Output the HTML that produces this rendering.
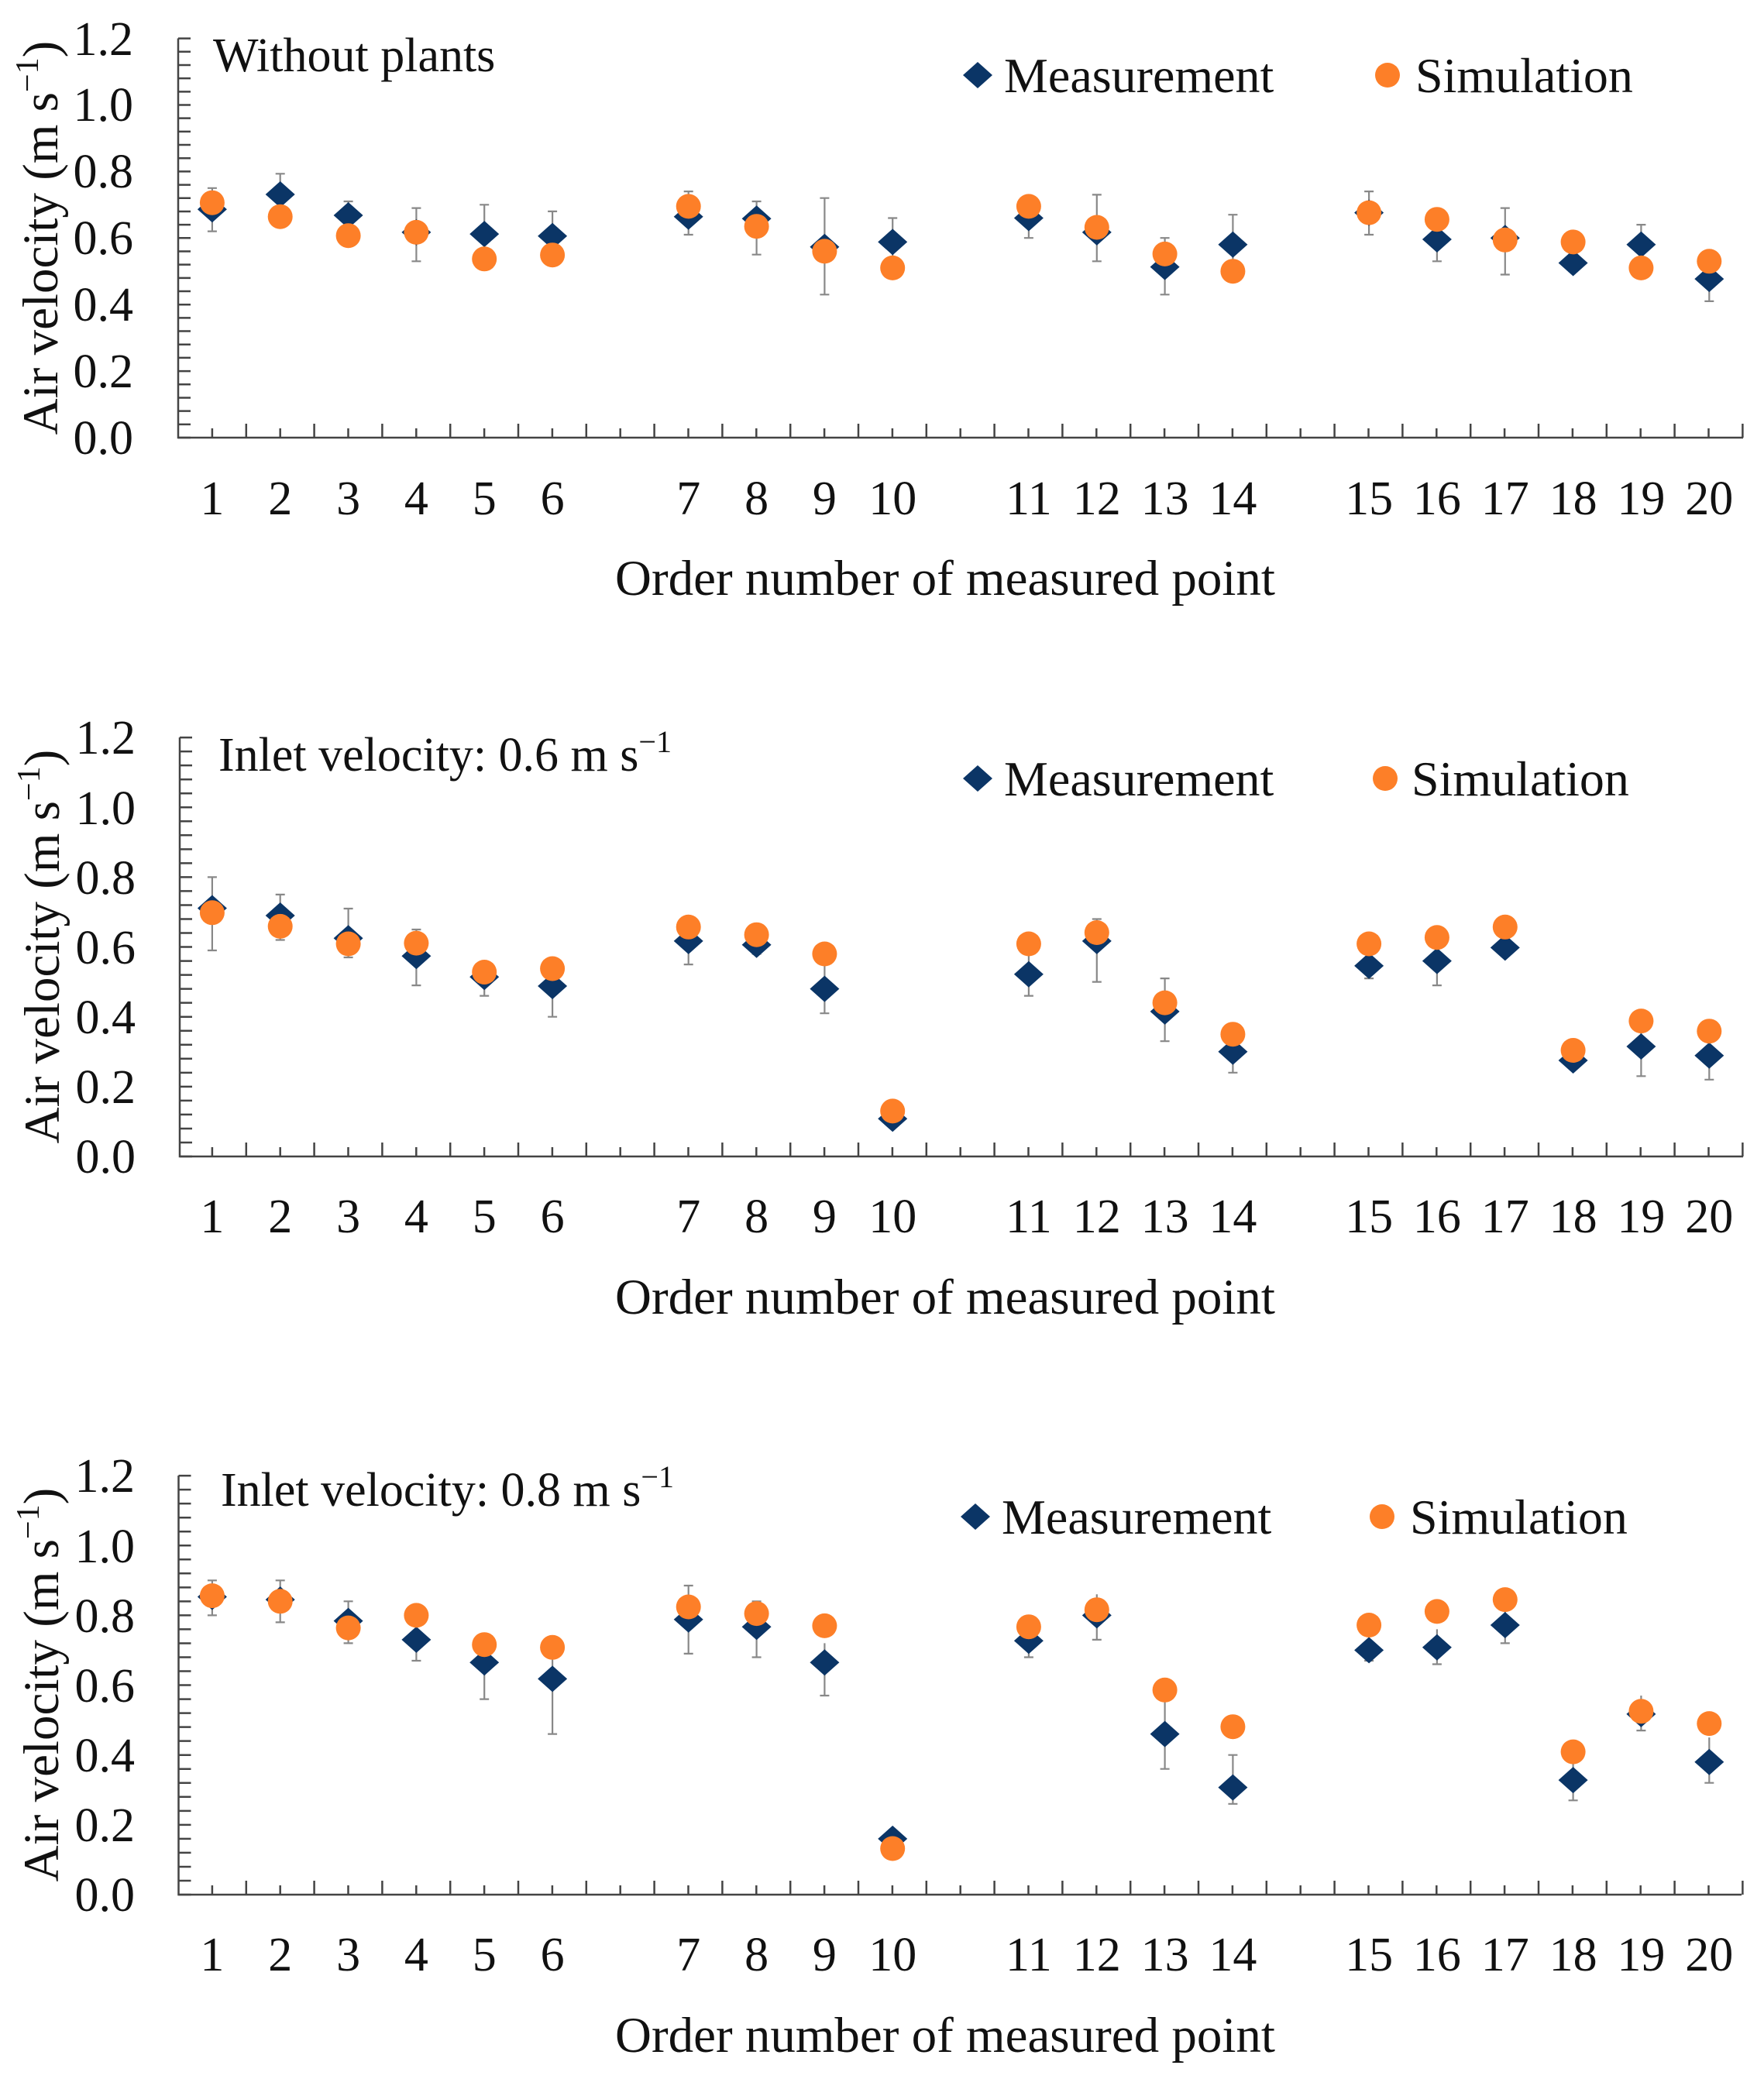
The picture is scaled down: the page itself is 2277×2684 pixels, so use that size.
<!DOCTYPE html>
<html><head><meta charset="utf-8"><style>html,body{margin:0;padding:0;background:#fff}svg{display:block}text,tspan{font-family:"Liberation Serif","Times New Roman",serif}</style></head>
<body>
<svg xmlns="http://www.w3.org/2000/svg" width="2277" height="2684" viewBox="0 0 2277 2684" style="font-family:'Liberation Serif',serif" fill="#111">
<defs>
<path id="d" d="M0,-17L19,0L0,17L-19,0Z" fill="#0b3566"/>
<circle id="c" r="16" fill="#fd7f28"/>
</defs>

<!-- ================= PANEL 1 ================= -->
<g stroke="#444" stroke-width="2.5" fill="none">
<path d="M230,49.5 V565 H2250"/>
<path d="M230,565 h16 m-16,-17.18 h16 m-16,-17.18 h16 m-16,-17.18 h16 m-16,-17.18 h16 m-16,-17.18 h16 m-16,-17.18 h16 m-16,-17.18 h16 m-16,-17.18 h16 m-16,-17.18 h16 m-16,-17.18 h16 m-16,-17.18 h16 m-16,-17.18 h16 m-16,-17.18 h16 m-16,-17.18 h16 m-16,-17.18 h16 m-16,-17.18 h16 m-16,-17.18 h16 m-16,-17.18 h16 m-16,-17.18 h16 m-16,-17.18 h16 m-16,-17.18 h16 m-16,-17.18 h16 m-16,-17.18 h16 m-16,-17.18 h16 m-16,-17.18 h16 m-16,-17.18 h16 m-16,-17.18 h16 m-16,-17.18 h16 m-16,-17.18 h16 m-16,-17.18 h16"/>
<path d="M273.9,565 v-12 m43.9,12 v-18 m43.9,18 v-12 m43.9,12 v-18 m43.9,18 v-12 m43.9,12 v-18 m43.9,18 v-12 m43.9,12 v-18 m43.9,18 v-12 m43.9,12 v-18 m43.9,18 v-12 m43.9,12 v-18 m43.9,18 v-12 m43.9,12 v-18 m43.9,18 v-12 m43.9,12 v-18 m43.9,18 v-12 m43.9,12 v-18 m43.9,18 v-12 m43.9,12 v-18 m43.9,18 v-12 m43.9,12 v-18 m43.9,18 v-12 m43.9,12 v-18 m43.9,18 v-12 m43.9,12 v-18 m43.9,18 v-12 m43.9,12 v-18 m43.9,18 v-12 m43.9,12 v-18 m43.9,18 v-12 m43.9,12 v-18 m43.9,18 v-12 m43.9,12 v-18 m43.9,18 v-12 m43.9,12 v-18 m43.9,18 v-12 m43.9,12 v-18 m43.9,18 v-12 m43.9,12 v-18 m43.9,18 v-12 m43.9,12 v-18 m43.9,18 v-12 m43.9,12 v-18 m43.9,18 v-12 m43.9,12 v-18"/>
</g>
<g font-size="62" text-anchor="end">
<text x="172" y="586">0.0</text><text x="172" y="500">0.2</text><text x="172" y="414">0.4</text><text x="172" y="328">0.6</text><text x="172" y="242">0.8</text><text x="172" y="156">1.0</text><text x="172" y="71">1.2</text>
</g>
<g font-size="62" text-anchor="middle">
<text x="273.9" y="664">1</text><text x="361.7" y="664">2</text><text x="449.6" y="664">3</text><text x="537.4" y="664">4</text><text x="625.2" y="664">5</text><text x="713.1" y="664">6</text><text x="888.7" y="664">7</text><text x="976.6" y="664">8</text><text x="1064.4" y="664">9</text><text x="1152.2" y="664">10</text><text x="1327.9" y="664">11</text><text x="1415.8" y="664">12</text><text x="1503.6" y="664">13</text><text x="1591.4" y="664">14</text><text x="1767.1" y="664">15</text><text x="1854.9" y="664">16</text><text x="1942.8" y="664">17</text><text x="2030.6" y="664">18</text><text x="2118.4" y="664">19</text><text x="2206.3" y="664">20</text>
<text x="1220" y="768" font-size="65">Order number of measured point</text>
<text transform="translate(74,307) rotate(-90)" font-size="65">Air velocity (m s<tspan font-size="42" dy="-25">−1</tspan><tspan dy="25">)</tspan></text>
</g>
<text x="275" y="92" font-size="62">Without plants</text>
<use href="#d" x="1262" y="97"/><text x="1296" y="119" font-size="64">Measurement</text>
<circle cx="1791" cy="97" r="16" fill="#fd7f28"/><text x="1827" y="119" font-size="64">Simulation</text>

<g stroke="#888" stroke-width="2.2" fill="none">
<path d="M273.9,242.8V298.6M267.9,242.8h12M267.9,298.6h12 M361.7,224.3V277.2M355.7,224.3h12M355.7,277.2h12 M449.6,260V294.4M443.6,260h12M443.6,294.4h12 M537.4,268.6V337.3M531.4,268.6h12M531.4,337.3h12 M625.2,264.3V341.6M619.2,264.3h12M619.2,341.6h12 M713.1,272.9V337.3M707.1,272.9h12M707.1,337.3h12 M888.7,247.1V303M882.7,247.1h12M882.7,303h12 M976.6,260V328.7M970.6,260h12M970.6,328.7h12 M1064.4,255.7V380.3M1058.4,255.7h12M1058.4,380.3h12 M1152.2,281.5V341.6M1146.2,281.5h12M1146.2,341.6h12 M1327.9,255.7V307.2M1321.9,255.7h12M1321.9,307.2h12 M1415.8,251.4V337.3M1409.8,251.4h12M1409.8,337.3h12 M1503.6,307.2V380.3M1497.6,307.2h12M1497.6,380.3h12 M1591.4,277.2V354.5M1585.4,277.2h12M1585.4,354.5h12 M1767.1,247.1V303M1761.1,247.1h12M1761.1,303h12 M1854.9,281.5V337.3M1848.9,281.5h12M1848.9,337.3h12 M1942.8,268.6V354.5M1936.8,268.6h12M1936.8,354.5h12 M2030.6,328.7V350.2M2024.6,328.7h12M2024.6,350.2h12 M2118.4,290.1V341.6M2112.4,290.1h12M2112.4,341.6h12 M2206.3,333V388.9M2200.3,333h12M2200.3,388.9h12"/>
</g>
<g>
<use href="#d" x="273.9" y="270.3"/><use href="#d" x="361.7" y="251"/><use href="#d" x="449.6" y="278"/><use href="#d" x="537.4" y="299.9"/><use href="#d" x="625.2" y="302.1"/><use href="#d" x="713.1" y="304.7"/><use href="#d" x="888.7" y="279.7"/><use href="#d" x="976.6" y="282.3"/><use href="#d" x="1064.4" y="318.8"/><use href="#d" x="1152.2" y="312.4"/><use href="#d" x="1327.9" y="281.5"/><use href="#d" x="1415.8" y="299.9"/><use href="#d" x="1503.6" y="344.6"/><use href="#d" x="1591.4" y="315.8"/><use href="#d" x="1767.1" y="274.6"/><use href="#d" x="1854.9" y="309"/><use href="#d" x="1942.8" y="307.2"/><use href="#d" x="2030.6" y="339.5"/><use href="#d" x="2118.4" y="315.8"/><use href="#d" x="2206.3" y="360.1"/>
<use href="#c" x="273.9" y="261.7"/><use href="#c" x="361.7" y="279.7"/><use href="#c" x="449.6" y="304.2"/><use href="#c" x="537.4" y="299.9"/><use href="#c" x="625.2" y="334.3"/><use href="#c" x="713.1" y="329.2"/><use href="#c" x="888.7" y="266.4"/><use href="#c" x="976.6" y="292.2"/><use href="#c" x="1064.4" y="324.4"/><use href="#c" x="1152.2" y="345.9"/><use href="#c" x="1327.9" y="266.4"/><use href="#c" x="1415.8" y="293.5"/><use href="#c" x="1503.6" y="327.9"/><use href="#c" x="1591.4" y="350.2"/><use href="#c" x="1767.1" y="274.6"/><use href="#c" x="1854.9" y="283.2"/><use href="#c" x="1942.8" y="309.8"/><use href="#c" x="2030.6" y="312.4"/><use href="#c" x="2118.4" y="345.9"/><use href="#c" x="2206.3" y="337.3"/>
</g>

<!-- ================= PANEL 2 ================= -->
<g stroke="#444" stroke-width="2.5" fill="none">
<path d="M232,952 V1493 H2250"/>
<path d="M232,1493 h16 m-16,-18.03 h16 m-16,-18.03 h16 m-16,-18.03 h16 m-16,-18.03 h16 m-16,-18.03 h16 m-16,-18.03 h16 m-16,-18.03 h16 m-16,-18.03 h16 m-16,-18.03 h16 m-16,-18.03 h16 m-16,-18.03 h16 m-16,-18.03 h16 m-16,-18.03 h16 m-16,-18.03 h16 m-16,-18.03 h16 m-16,-18.03 h16 m-16,-18.03 h16 m-16,-18.03 h16 m-16,-18.03 h16 m-16,-18.03 h16 m-16,-18.03 h16 m-16,-18.03 h16 m-16,-18.03 h16 m-16,-18.03 h16 m-16,-18.03 h16 m-16,-18.03 h16 m-16,-18.03 h16 m-16,-18.03 h16 m-16,-18.03 h16 m-16,-18.03 h16"/>
<path d="M273.9,1493 v-12 m43.9,12 v-18 m43.9,18 v-12 m43.9,12 v-18 m43.9,18 v-12 m43.9,12 v-18 m43.9,18 v-12 m43.9,12 v-18 m43.9,18 v-12 m43.9,12 v-18 m43.9,18 v-12 m43.9,12 v-18 m43.9,18 v-12 m43.9,12 v-18 m43.9,18 v-12 m43.9,12 v-18 m43.9,18 v-12 m43.9,12 v-18 m43.9,18 v-12 m43.9,12 v-18 m43.9,18 v-12 m43.9,12 v-18 m43.9,18 v-12 m43.9,12 v-18 m43.9,18 v-12 m43.9,12 v-18 m43.9,18 v-12 m43.9,12 v-18 m43.9,18 v-12 m43.9,12 v-18 m43.9,18 v-12 m43.9,12 v-18 m43.9,18 v-12 m43.9,12 v-18 m43.9,18 v-12 m43.9,12 v-18 m43.9,18 v-12 m43.9,12 v-18 m43.9,18 v-12 m43.9,12 v-18 m43.9,18 v-12 m43.9,12 v-18 m43.9,18 v-12 m43.9,12 v-18 m43.9,18 v-12 m43.9,12 v-18"/>
</g>
<g font-size="62" text-anchor="end">
<text x="175" y="1514">0.0</text><text x="175" y="1424">0.2</text><text x="175" y="1334">0.4</text><text x="175" y="1244">0.6</text><text x="175" y="1154">0.8</text><text x="175" y="1064">1.0</text><text x="175" y="973">1.2</text>
</g>
<g font-size="62" text-anchor="middle">
<text x="273.9" y="1591">1</text><text x="361.7" y="1591">2</text><text x="449.6" y="1591">3</text><text x="537.4" y="1591">4</text><text x="625.2" y="1591">5</text><text x="713.1" y="1591">6</text><text x="888.7" y="1591">7</text><text x="976.6" y="1591">8</text><text x="1064.4" y="1591">9</text><text x="1152.2" y="1591">10</text><text x="1327.9" y="1591">11</text><text x="1415.8" y="1591">12</text><text x="1503.6" y="1591">13</text><text x="1591.4" y="1591">14</text><text x="1767.1" y="1591">15</text><text x="1854.9" y="1591">16</text><text x="1942.8" y="1591">17</text><text x="2030.6" y="1591">18</text><text x="2118.4" y="1591">19</text><text x="2206.3" y="1591">20</text>
<text x="1220" y="1696" font-size="65">Order number of measured point</text>
<text transform="translate(76,1222) rotate(-90)" font-size="65">Air velocity (m s<tspan font-size="42" dy="-25">−1</tspan><tspan dy="25">)</tspan></text>
</g>
<text x="282" y="995" font-size="62">Inlet velocity: 0.6 m s<tspan font-size="40" dy="-24">−1</tspan></text>
<use href="#d" x="1262" y="1005"/><text x="1296" y="1027" font-size="64">Measurement</text>
<circle cx="1788" cy="1005" r="16" fill="#fd7f28"/><text x="1822" y="1027" font-size="64">Simulation</text>

<g stroke="#888" stroke-width="2.2" fill="none">
<path d="M273.9,1132.4V1227M267.9,1132.4h12M267.9,1227h12 M361.7,1154.9V1213.5M355.7,1154.9h12M355.7,1213.5h12 M449.6,1173V1236M443.6,1173h12M443.6,1236h12 M537.4,1200V1272.1M531.4,1200h12M531.4,1272.1h12 M625.2,1245.1V1285.6M619.2,1245.1h12M619.2,1285.6h12 M713.1,1240.6V1312.7M707.1,1240.6h12M707.1,1312.7h12 M888.7,1186.5V1245.1M882.7,1186.5h12M882.7,1245.1h12 M976.6,1209V1231.5M970.6,1209h12M970.6,1231.5h12 M1064.4,1245.1V1308.2M1058.4,1245.1h12M1058.4,1308.2h12 M1327.9,1231.5V1285.6M1321.9,1231.5h12M1321.9,1285.6h12 M1415.8,1186.5V1267.6M1409.8,1186.5h12M1409.8,1267.6h12 M1503.6,1263.1V1344.2M1497.6,1263.1h12M1497.6,1344.2h12 M1591.4,1330.7V1384.8M1585.4,1330.7h12M1585.4,1384.8h12 M1767.1,1231.5V1263.1M1761.1,1231.5h12M1761.1,1263.1h12 M1854.9,1213.5V1272.1M1848.9,1213.5h12M1848.9,1272.1h12 M1942.8,1213.5V1231.5M1936.8,1231.5h12 M2030.6,1362.3V1375.8M2024.6,1375.8h12 M2118.4,1312.7V1389.3M2112.4,1389.3h12 M2206.3,1335.2V1393.8M2200.3,1393.8h12"/>
</g>
<g>
<use href="#d" x="273.9" y="1172.5"/><use href="#d" x="361.7" y="1182"/><use href="#d" x="449.6" y="1211.3"/><use href="#d" x="537.4" y="1234.2"/><use href="#d" x="625.2" y="1261.3"/><use href="#d" x="713.1" y="1273"/><use href="#d" x="888.7" y="1214.9"/><use href="#d" x="976.6" y="1219.8"/><use href="#d" x="1064.4" y="1276.6"/><use href="#d" x="1152.2" y="1444.3"/><use href="#d" x="1327.9" y="1257.7"/><use href="#d" x="1415.8" y="1214.9"/><use href="#d" x="1503.6" y="1305.9"/><use href="#d" x="1591.4" y="1357.8"/><use href="#d" x="1767.1" y="1246.9"/><use href="#d" x="1854.9" y="1240.6"/><use href="#d" x="1942.8" y="1223.4"/><use href="#d" x="2030.6" y="1369"/><use href="#d" x="2118.4" y="1351"/><use href="#d" x="2206.3" y="1362.7"/>
<use href="#c" x="273.9" y="1178.3"/><use href="#c" x="361.7" y="1195.9"/><use href="#c" x="449.6" y="1218.5"/><use href="#c" x="537.4" y="1217.6"/><use href="#c" x="625.2" y="1255"/><use href="#c" x="713.1" y="1250.5"/><use href="#c" x="888.7" y="1196.8"/><use href="#c" x="976.6" y="1206.7"/><use href="#c" x="1064.4" y="1231.5"/><use href="#c" x="1152.2" y="1434.4"/><use href="#c" x="1327.9" y="1218.5"/><use href="#c" x="1415.8" y="1204"/><use href="#c" x="1503.6" y="1294.6"/><use href="#c" x="1591.4" y="1335.2"/><use href="#c" x="1767.1" y="1218.5"/><use href="#c" x="1854.9" y="1210.3"/><use href="#c" x="1942.8" y="1196.8"/><use href="#c" x="2030.6" y="1356"/><use href="#c" x="2118.4" y="1318.1"/><use href="#c" x="2206.3" y="1331.2"/>
</g>

<!-- ================= PANEL 3 ================= -->
<g stroke="#444" stroke-width="2.5" fill="none">
<path d="M230.5,1905 V2446 H2248"/>
<path d="M230.5,2446 h16 m-16,-18.03 h16 m-16,-18.03 h16 m-16,-18.03 h16 m-16,-18.03 h16 m-16,-18.03 h16 m-16,-18.03 h16 m-16,-18.03 h16 m-16,-18.03 h16 m-16,-18.03 h16 m-16,-18.03 h16 m-16,-18.03 h16 m-16,-18.03 h16 m-16,-18.03 h16 m-16,-18.03 h16 m-16,-18.03 h16 m-16,-18.03 h16 m-16,-18.03 h16 m-16,-18.03 h16 m-16,-18.03 h16 m-16,-18.03 h16 m-16,-18.03 h16 m-16,-18.03 h16 m-16,-18.03 h16 m-16,-18.03 h16 m-16,-18.03 h16 m-16,-18.03 h16 m-16,-18.03 h16 m-16,-18.03 h16 m-16,-18.03 h16 m-16,-18.03 h16"/>
<path d="M273.9,2446 v-12 m43.9,12 v-18 m43.9,18 v-12 m43.9,12 v-18 m43.9,18 v-12 m43.9,12 v-18 m43.9,18 v-12 m43.9,12 v-18 m43.9,18 v-12 m43.9,12 v-18 m43.9,18 v-12 m43.9,12 v-18 m43.9,18 v-12 m43.9,12 v-18 m43.9,18 v-12 m43.9,12 v-18 m43.9,18 v-12 m43.9,12 v-18 m43.9,18 v-12 m43.9,12 v-18 m43.9,18 v-12 m43.9,12 v-18 m43.9,18 v-12 m43.9,12 v-18 m43.9,18 v-12 m43.9,12 v-18 m43.9,18 v-12 m43.9,12 v-18 m43.9,18 v-12 m43.9,12 v-18 m43.9,18 v-12 m43.9,12 v-18 m43.9,18 v-12 m43.9,12 v-18 m43.9,18 v-12 m43.9,12 v-18 m43.9,18 v-12 m43.9,12 v-18 m43.9,18 v-12 m43.9,12 v-18 m43.9,18 v-12 m43.9,12 v-18 m43.9,18 v-12 m43.9,12 v-18 m43.9,18 v-12 m43.9,12 v-18"/>
</g>
<g font-size="62" text-anchor="end">
<text x="174" y="2467">0.0</text><text x="174" y="2377">0.2</text><text x="174" y="2287">0.4</text><text x="174" y="2197">0.6</text><text x="174" y="2107">0.8</text><text x="174" y="2017">1.0</text><text x="174" y="1926">1.2</text>
</g>
<g font-size="62" text-anchor="middle">
<text x="273.9" y="2544">1</text><text x="361.7" y="2544">2</text><text x="449.6" y="2544">3</text><text x="537.4" y="2544">4</text><text x="625.2" y="2544">5</text><text x="713.1" y="2544">6</text><text x="888.7" y="2544">7</text><text x="976.6" y="2544">8</text><text x="1064.4" y="2544">9</text><text x="1152.2" y="2544">10</text><text x="1327.9" y="2544">11</text><text x="1415.8" y="2544">12</text><text x="1503.6" y="2544">13</text><text x="1591.4" y="2544">14</text><text x="1767.1" y="2544">15</text><text x="1854.9" y="2544">16</text><text x="1942.8" y="2544">17</text><text x="2030.6" y="2544">18</text><text x="2118.4" y="2544">19</text><text x="2206.3" y="2544">20</text>
<text x="1220" y="2649" font-size="65">Order number of measured point</text>
<text transform="translate(75,2175) rotate(-90)" font-size="65">Air velocity (m s<tspan font-size="42" dy="-25">−1</tspan><tspan dy="25">)</tspan></text>
</g>
<text x="285" y="1944" font-size="62">Inlet velocity: 0.8 m s<tspan font-size="40" dy="-24">−1</tspan></text>
<use href="#d" x="1259" y="1958"/><text x="1293" y="1980" font-size="64">Measurement</text>
<circle cx="1784" cy="1958" r="16" fill="#fd7f28"/><text x="1820" y="1980" font-size="64">Simulation</text>

<g stroke="#888" stroke-width="2.2" fill="none">
<path d="M273.9,2040.3V2085.4M267.9,2040.3h12M267.9,2085.4h12 M361.7,2040.3V2094.4M355.7,2040.3h12M355.7,2094.4h12 M449.6,2067.3V2121.4M443.6,2067.3h12M443.6,2121.4h12 M537.4,2089.9V2144M531.4,2144h12 M625.2,2121.4V2193.6M619.2,2193.6h12 M713.1,2121.4V2238.6M707.1,2238.6h12 M888.7,2047V2134.9M882.7,2047h12M882.7,2134.9h12 M976.6,2067.3V2139.5M970.6,2067.3h12M970.6,2139.5h12 M1064.4,2121.4V2189M1058.4,2189h12 M1327.9,2098.9V2139.5M1321.9,2139.5h12 M1415.8,2058.3V2116.9M1409.8,2116.9h12 M1503.6,2189V2283.7M1497.6,2283.7h12 M1591.4,2265.7V2328.8M1585.4,2265.7h12M1585.4,2328.8h12 M1767.1,2116.9V2144M1761.1,2144h12 M1854.9,2103.4V2148.5M1848.9,2148.5h12 M1942.8,2076.3V2121.4M1936.8,2121.4h12 M2030.6,2274.7V2324.3M2024.6,2324.3h12 M2118.4,2189V2234.1M2112.4,2234.1h12 M2206.3,2243.1V2301.7M2200.3,2301.7h12"/>
</g>
<g>
<use href="#d" x="273.9" y="2061.5"/><use href="#d" x="361.7" y="2065.1"/><use href="#d" x="449.6" y="2092.6"/><use href="#d" x="537.4" y="2116.9"/><use href="#d" x="625.2" y="2146.2"/><use href="#d" x="713.1" y="2167.4"/><use href="#d" x="888.7" y="2090.8"/><use href="#d" x="976.6" y="2100.2"/><use href="#d" x="1064.4" y="2146.2"/><use href="#d" x="1152.2" y="2373.9"/><use href="#d" x="1327.9" y="2118.3"/><use href="#d" x="1415.8" y="2085.4"/><use href="#d" x="1503.6" y="2238.6"/><use href="#d" x="1591.4" y="2307.6"/><use href="#d" x="1767.1" y="2130.4"/><use href="#d" x="1854.9" y="2126.8"/><use href="#d" x="1942.8" y="2098"/><use href="#d" x="2030.6" y="2298.1"/><use href="#d" x="2118.4" y="2212.9"/><use href="#d" x="2206.3" y="2274.7"/>
<use href="#c" x="273.9" y="2060.1"/><use href="#c" x="361.7" y="2067.3"/><use href="#c" x="449.6" y="2101.6"/><use href="#c" x="537.4" y="2085.4"/><use href="#c" x="625.2" y="2123.2"/><use href="#c" x="713.1" y="2126.8"/><use href="#c" x="888.7" y="2074.5"/><use href="#c" x="976.6" y="2083.1"/><use href="#c" x="1064.4" y="2098.9"/><use href="#c" x="1152.2" y="2386.5"/><use href="#c" x="1327.9" y="2100.2"/><use href="#c" x="1415.8" y="2078.2"/><use href="#c" x="1503.6" y="2181.8"/><use href="#c" x="1591.4" y="2229.2"/><use href="#c" x="1767.1" y="2098"/><use href="#c" x="1854.9" y="2080.4"/><use href="#c" x="1942.8" y="2065.1"/><use href="#c" x="2030.6" y="2261.6"/><use href="#c" x="2118.4" y="2209.3"/><use href="#c" x="2206.3" y="2225.1"/>
</g>
</svg>
</body></html>
